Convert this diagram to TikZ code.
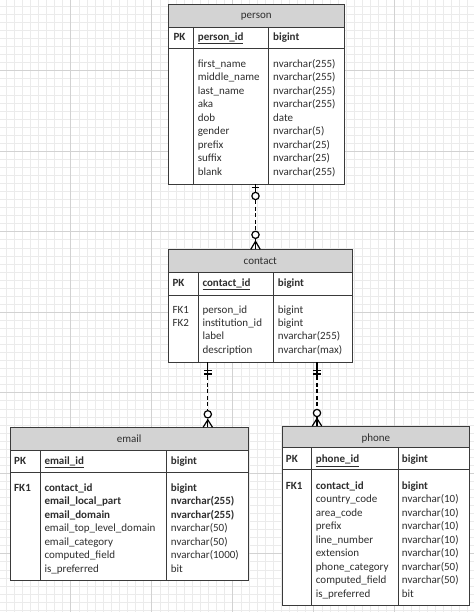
\documentclass[tikz,border=0pt]{standalone}
\usepackage{fontspec}
\setmainfont{Carlito}
\usetikzlibrary{calc}
\definecolor{gridminor}{HTML}{EBEBEB}
\definecolor{gridmajor}{HTML}{D2D2D2}
\definecolor{hdr}{HTML}{D3D3D3}
\definecolor{ln}{HTML}{3A3A3A}
\definecolor{txtc}{HTML}{2E2E2E}
\newcommand\ertable[9]{%
  \node[tbl, minimum width=#4pt, minimum height=#5pt] (#1) at (#2,#3) {};
  \draw[hdrbox] (#1.north west) rectangle ($(#1.north east)+(0,#6)$);
  \draw[sep] ($(#1.north west)+(0,#7)$) -- ($(#1.north east)+(0,#7)$);
  \draw[sep] ($(#1.north west)+(#8,#6)$) -- ($(#1.south west)+(#8,0)$);
  \draw[sep] ($(#1.north west)+(#9,#6)$) -- ($(#1.south west)+(#9,0)$);
}
\begin{document}
\begin{tikzpicture}[x=1pt,y=-1pt,
  tbl/.style={draw=ln, fill=white, line width=0.9pt, inner sep=0pt, outer sep=0pt, anchor=north west},
  hdrbox/.style={draw=ln, fill=hdr, line width=0.9pt},
  sep/.style={draw=ln, line width=0.9pt},
  txt/.style={inner sep=0pt, anchor=base west, font=\fontsize{11}{13}\selectfont, text=txtc},
  ttl/.style={inner sep=0pt, anchor=base, font=\fontsize{11}{13}\selectfont, text=txtc},
  conn/.style={draw=black, line width=1.2pt},
  dconn/.style={conn, dash pattern=on 4pt off 2.5pt},
  ring/.style={draw=black, line width=1.2pt, fill=white, circle, minimum size=7.3pt, inner sep=0pt}]
\useasboundingbox (0,0) rectangle (474,612);
\fill[white] (0,0) rectangle (474,612);
% grid
\foreach \i in {0,...,58} \draw[gridminor, line width=0.6pt] (5.9+8.1*\i,0) -- (5.9+8.1*\i,612);
\foreach \i in {0,...,76} \draw[gridminor, line width=0.6pt] (0,6.3+8.05*\i) -- (474,6.3+8.05*\i);
\foreach \i in {0,...,5} \draw[gridmajor, line width=0.7pt] (70.7+81*\i,0) -- (70.7+81*\i,612);
\foreach \i in {0,...,6} \draw[gridmajor, line width=0.7pt] (0,70.7+80.5*\i) -- (474,70.7+80.5*\i);

% tables
\ertable{person}{168.3}{4}{176}{180}{23}{44}{25}{100}
\ertable{contact}{168.3}{249.3}{184}{113}{23.4}{45.7}{30}{105}
\ertable{email}{10}{427.3}{238.3}{153.4}{22.7}{45}{30}{156.7}
\ertable{phone}{282.3}{426}{187}{179}{21.7}{43.3}{29.4}{116}

% person
\node[ttl] (person-t) at ($(person.north)+(0,15)$) {person};
\node[txt] (person-pk) at (173.3,40.3) {\textbf{PK}};
\node[txt] (person-id) at (197.7,40.3) {\underline{\textbf{person\_id}}};
\node[txt] (person-idt) at (273,40.3) {\textbf{bigint}};
\foreach \n/\t [count=\i from 0] in {first\_name/nvarchar(255), middle\_name/nvarchar(255), last\_name/nvarchar(255), aka/nvarchar(255), dob/date, gender/nvarchar(5), prefix/nvarchar(25), suffix/nvarchar(25), blank/nvarchar(255)}{
  \node[txt] (person-n\i) at (197.7,67.3+13.5*\i) {\n};
  \node[txt] (person-t\i) at (273,67.3+13.5*\i) {\t};
}

% contact
\node[ttl] (contact-t) at ($(contact.north)+(0,15)$) {contact};
\node[txt] (contact-pk) at (172.3,286.3) {\textbf{PK}};
\node[txt] (contact-id) at (202.3,286.3) {\underline{\textbf{contact\_id}}};
\node[txt] (contact-idt) at (277.7,286.3) {\textbf{bigint}};
\node[txt] (contact-fk1) at (172.3,313.3) {FK1};
\node[txt] (contact-fk2) at (172.3,326.6) {FK2};
\foreach \n/\t [count=\i from 0] in {person\_id/bigint, institution\_id/bigint, label/nvarchar(255), description/nvarchar(max)}{
  \node[txt] (contact-n\i) at (202.3,313.3+13.33*\i) {\n};
  \node[txt] (contact-t\i) at (277.7,313.3+13.33*\i) {\t};
}

% email
\node[ttl] (email-t) at ($(email.north)+(0,15)$) {email};
\node[txt] (email-pk) at (14,464.5) {\textbf{PK}};
\node[txt] (email-id) at (44.3,464.5) {\underline{\textbf{email\_id}}};
\node[txt] (email-idt) at (170.7,464.5) {\textbf{bigint}};
\node[txt] (email-fk1) at (14,491) {\textbf{FK1}};
\foreach \n/\t [count=\i from 0] in {\textbf{contact\_id}/\textbf{bigint}, \textbf{email\_local\_part}/\textbf{nvarchar(255)}, \textbf{email\_domain}/\textbf{nvarchar(255)}, email\_top\_level\_domain/nvarchar(50), email\_category/nvarchar(50), computed\_field/nvarchar(1000), is\_preferred/bit}{
  \node[txt] (email-n\i) at (44.3,491+13.5*\i) {\n};
  \node[txt] (email-t\i) at (170.7,491+13.5*\i) {\t};
}

% phone
\node[ttl] (phone-t) at ($(phone.north)+(0,15)$) {phone};
\node[txt] (phone-pk) at (285.7,462.8) {\textbf{PK}};
\node[txt] (phone-id) at (315.7,462.8) {\underline{\textbf{phone\_id}}};
\node[txt] (phone-idt) at (401.7,462.8) {\textbf{bigint}};
\node[txt] (phone-fk1) at (285.7,489) {\textbf{FK1}};
\foreach \n/\t [count=\i from 0] in {\textbf{contact\_id}/\textbf{bigint}, country\_code/nvarchar(10), area\_code/nvarchar(10), prefix/nvarchar(10), line\_number/nvarchar(10), extension/nvarchar(10), phone\_category/nvarchar(50), computed\_field/nvarchar(50), is\_preferred/bit}{
  \node[txt] (phone-n\i) at (315.7,489+13.5*\i) {\n};
  \node[txt] (phone-t\i) at (401.7,489+13.5*\i) {\t};
}

% connector person -> contact
\coordinate (pc) at (255.5,0);
\node[ring] (pr1) at ($(person.south -| pc)+(0,12)$) {};
\node[ring] (pr2) at ($(contact.north -| pc)+(0,-14.5)$) {};
\draw[conn] (person.south -| pc) -- (pr1.north);
\draw[conn] ($(person.south -| pc)+(-3.8,3.5)$) -- ($(person.south -| pc)+(3.8,3.5)$);
\draw[dconn] (pr1.south) -- (pr2.north);
\draw[conn] (pr2.south) -- (contact.north -| pc);
\draw[conn] ($(contact.north -| pc)+(-4.7,0)$) -- ($(contact.north -| pc)+(0,-8)$) -- ($(contact.north -| pc)+(4.7,0)$);

% connector contact -> email
\coordinate (ec) at (207.8,0);
\node[ring] (er1) at ($(email.north -| ec)+(0,-13)$) {};
\draw[conn] (contact.south -| ec) -- ($(contact.south -| ec)+(0,14)$) coordinate (ec1);
\draw[conn] ($(contact.south -| ec)+(-3.8,7.8)$) -- ($(contact.south -| ec)+(3.8,7.8)$);
\draw[conn] ($(contact.south -| ec)+(-3.8,11.7)$) -- ($(contact.south -| ec)+(3.8,11.7)$);
\draw[dconn] (ec1) -- (er1.north);
\draw[conn] (er1.south) -- (email.north -| ec);
\draw[conn] ($(email.north -| ec)+(-4.7,0)$) -- ($(email.north -| ec)+(0,-7.5)$) -- ($(email.north -| ec)+(4.7,0)$);

% connector contact -> phone
\coordinate (phc) at (317,0);
\node[ring] (phr1) at ($(phone.north -| phc)+(0,-13)$) {};
\draw[conn] (contact.south -| phc) -- ($(contact.south -| phc)+(0,14)$) coordinate (phc1);
\draw[conn] ($(contact.south -| phc)+(-3.8,7.8)$) -- ($(contact.south -| phc)+(3.8,7.8)$);
\draw[conn] ($(contact.south -| phc)+(-3.8,11.7)$) -- ($(contact.south -| phc)+(3.8,11.7)$);
\draw[dconn] (phc1) -- (phr1.north);
\draw[conn] (phr1.south) -- (phone.north -| phc);
\draw[conn] ($(phone.north -| phc)+(-4.7,0)$) -- ($(phone.north -| phc)+(0,-7.5)$) -- ($(phone.north -| phc)+(4.7,0)$);
\end{tikzpicture}
\end{document}
